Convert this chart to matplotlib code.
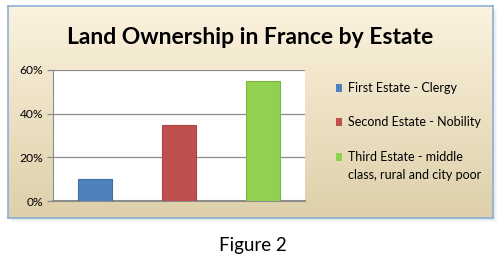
import matplotlib.pyplot as plt
import numpy as np
from matplotlib.patches import Rectangle

plt.rcParams['font.family'] = ['Lato', 'DejaVu Sans']

# data
estates = ['First Estate - Clergy', 'Second Estate - Nobility',
           'Third Estate - middle\nclass, rural and city poor']
shares = [10, 35, 55]
colors = ['#4F81BD', '#C0504D', '#92D050']
edges = ['#3F6FA8', '#A94440', '#7DB83E']
yticks = [0, 20, 40, 60]

W, H = 500, 261
fig = plt.figure(figsize=(5, 2.61), dpi=100)
fig.patch.set_facecolor('white')

# soft shadow under the chart frame
for i, a in enumerate([0.05, 0.05, 0.06, 0.07]):
    d = 4 - i
    fig.add_artist(Rectangle(((8 + d) / W, (H - 218 - d) / H), 485 / W, 212 / H,
                             transform=fig.transFigure, facecolor='#6a7a90',
                             edgecolor='none', alpha=a, zorder=0))

# gradient frame
bg = fig.add_axes([8 / W, (H - 218) / H, 485 / W, 212 / H])
top = np.array([252, 242, 222]) / 255
bot = np.array([221, 208, 170]) / 255
t = np.linspace(0, 1, 200)[:, None]
grad = (top[None, :] * (1 - t) + bot[None, :] * t)[:, None, :]
bg.imshow(grad, aspect='auto', extent=[0, 1, 0, 1])
bg.set_xticks([])
bg.set_yticks([])
for s in bg.spines.values():
    s.set_color('#8DAFD6')
    s.set_linewidth(1.2)

fig.text(250 / W, 1 - 37 / H, 'Land Ownership in France by Estate',
         ha='center', va='center', fontsize=16.5, fontweight='bold', color='black')

ax = fig.add_axes([53 / W, (H - 201) / H, 252 / W, 131 / H])
ax.set_facecolor('white')
x = np.arange(len(shares))
bars = ax.bar(x, shares, width=0.4, color=colors, edgecolor=edges, linewidth=0.8,
              zorder=3)
ax.set_xlim(-0.5, 2.5)
ax.set_ylim(0, 60)
ax.set_yticks(yticks)
ax.set_yticklabels([f'{v}%' for v in yticks], fontsize=8.7)
ax.set_xticks([])
ax.grid(axis='y', color='#8c8c8c', linewidth=0.9, zorder=0)
ax.tick_params(axis='y', length=4, color='#8c8c8c', width=0.9, pad=3)
for k in ['top', 'right']:
    ax.spines[k].set_visible(False)
ax.spines['left'].set_color('#8c8c8c')
ax.spines['bottom'].set_color('#8c8c8c')
ax.spines['bottom'].set_linewidth(1.5)

# legend, laid out like the Excel one (key beside the first line of each label)
ys = [88, 122, 157]
for label, c, y in zip(estates, colors, ys):
    fig.add_artist(Rectangle((336 / W, 1 - (y + 4) / H), 6 / W, 8 / H,
                             transform=fig.transFigure, facecolor=c, edgecolor='none'))
    for j, line in enumerate(label.split('\n')):
        fig.text(348 / W, 1 - (y + 18 * j) / H, line, ha='left', va='center',
                 fontsize=9)

fig.text(253 / W, 1 - 246 / H, 'Figure 2', ha='center', va='center', fontsize=13.5)

fig.savefig('out.png', dpi=100)
